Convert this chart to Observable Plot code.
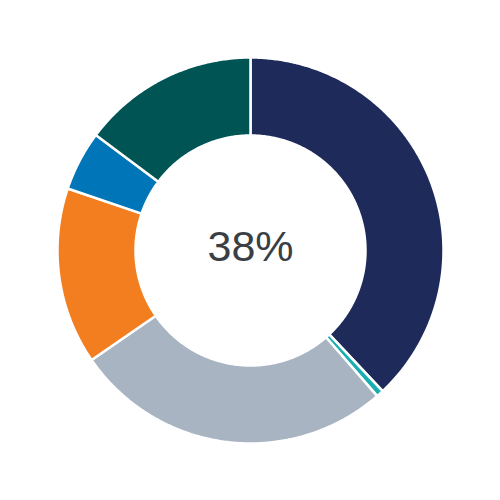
<!DOCTYPE html>
<html>
<head>
<meta charset="utf-8">
<script src="https://cdn.jsdelivr.net/npm/d3@7"></script>
<script src="https://cdn.jsdelivr.net/npm/@observablehq/plot@0.6"></script>
<style>
  html, body { margin: 0; padding: 0; background: #fff; }
  #chart { width: 500px; height: 500px; }
</style>
</head>
<body>
<div id="chart"></div>
<script>
const categories = ["A", "B", "C", "D", "E", "F"];
const values = [38, 0.6, 26.8, 14.8, 5.0, 14.8];
const colors = ["#1e2b5a", "#1aaeb0", "#a9b4c3", "#f27e20", "#0075b8", "#005454"];
const centerLabel = "38%";

const outerR = 193, innerR = 115;
const pie = d3.pie().sort(null).value(d => d.value);
const arcs = pie(categories.map((c, i) => ({category: c, value: values[i]})));

const pts = [];
arcs.forEach(a => {
  const n = Math.max(4, Math.ceil((a.endAngle - a.startAngle) / (Math.PI / 360)));
  for (let k = 0; k <= n; k++) {
    const t = a.startAngle + (a.endAngle - a.startAngle) * k / n;
    pts.push({category: a.data.category, x: outerR * Math.sin(t), y: outerR * Math.cos(t)});
  }
  for (let k = n; k >= 0; k--) {
    const t = a.startAngle + (a.endAngle - a.startAngle) * k / n;
    pts.push({category: a.data.category, x: innerR * Math.sin(t), y: innerR * Math.cos(t)});
  }
});

const chart = Plot.plot({
  width: 500,
  height: 500,
  margin: 0,
  style: {background: "#fff", fontFamily: "'Liberation Sans', Arial, sans-serif"},
  x: {domain: [-250, 250], axis: null},
  y: {domain: [-250, 250], axis: null},
  color: {domain: categories, range: colors},
  marks: [
    Plot.line(pts, {x: "x", y: "y", z: "category", fill: "category", stroke: "#fff", strokeWidth: 2.5, curve: "linear-closed"}),
    Plot.text([centerLabel], {x: () => 0, y: () => 0, text: d => d, fontSize: 43, fill: "#3a3f45", textAnchor: "middle", dy: -3})
  ]
});
document.getElementById("chart").appendChild(chart);
</script>
</body>
</html>
